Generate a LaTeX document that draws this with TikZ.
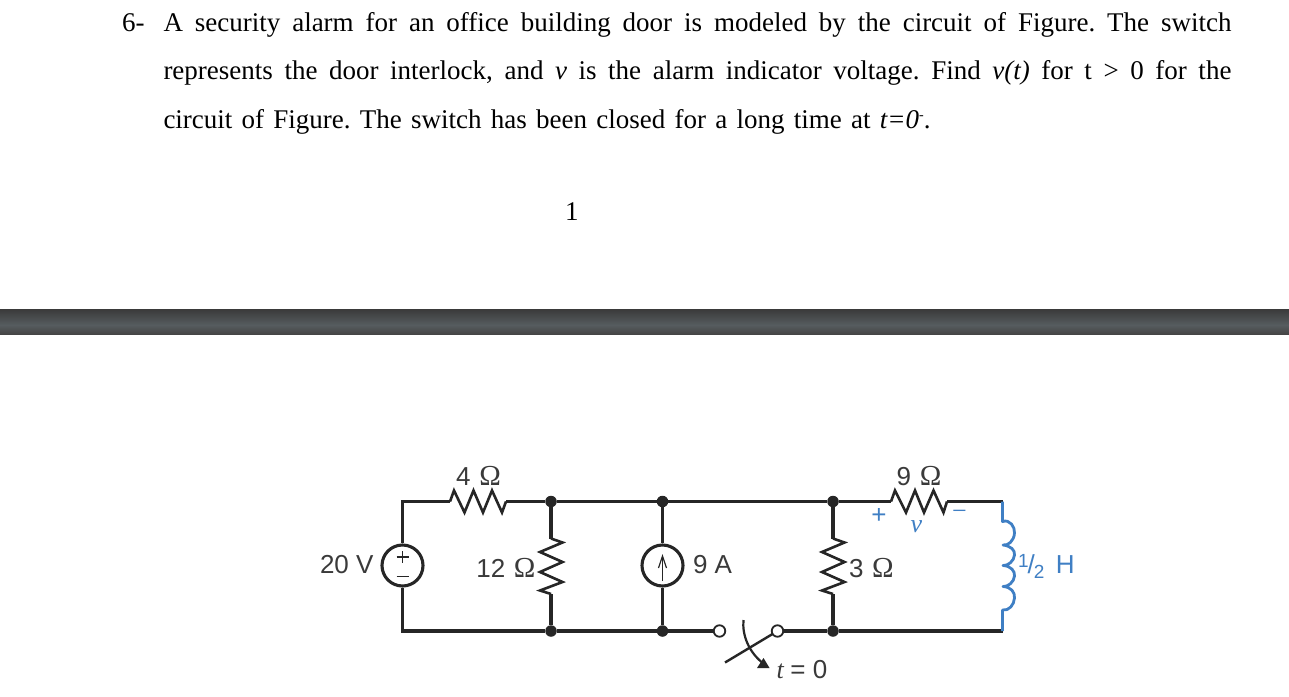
\documentclass[tikz,border=0pt]{standalone}
\usepackage{fontspec}
\setmainfont{Liberation Serif}
\newfontfamily\lsans{Liberation Sans}
\usetikzlibrary{arrows.meta}
\definecolor{wire}{HTML}{262626}
\definecolor{lab}{HTML}{3A3A3A}
\definecolor{blu}{HTML}{3F7FC4}
\definecolor{bandA}{HTML}{3A3A3A}
\definecolor{bandB}{HTML}{565C5F}
\definecolor{bandC}{HTML}{454545}
\frenchspacing
\newcommand{\para}[2]{\fontsize{27}{30}\selectfont\makebox[#1][s]{\strut #2}}
\newcommand{\Om}{{\fontsize{29}{28}\selectfont\rmfamily Ω}}
\tikzset{
  wirepath/.style={draw=wire,line width=3.1pt,line join=miter},
  body/.style={anchor=base west,inner sep=0pt,outer sep=0pt,text=black},
  clab/.style={inner sep=0pt,outer sep=0pt,text=lab,font=\lsans\fontsize{26}{28}\selectfont},
  blab/.style={inner sep=0pt,outer sep=0pt,text=blu,font=\lsans\fontsize{26}{28}\selectfont},
  srcc/.style={circle,draw=wire,line width=3.1pt,fill=white,minimum size=41pt,inner sep=0pt},
  junction/.style={circle,fill=wire,minimum size=11.5pt,inner sep=0pt},
  term/.style={circle,draw=wire,line width=1.8pt,fill=white,minimum size=11.5pt,inner sep=0pt},
}
\begin{document}
\begin{tikzpicture}[x=1pt,y=-1pt]
\useasboundingbox (0,0) rectangle (1289,696);
\fill[white] (0,0) rectangle (1289,696);
% band
\shade[top color=bandA,bottom color=bandB] (0,309) rectangle (1289,325);
\shade[top color=bandB,bottom color=bandC] (0,325) rectangle (1289,334);
% text
\node[body] (n6) at (122,31) {\fontsize{27}{30}\selectfont 6-};
\node[body] (l1) at (163.5,31) {\para{1068pt}{A security alarm for an office building door is modeled by the circuit of Figure. The switch}};
\node[body] (l2) at (163.5,79.5) {\para{1068pt}{represents the door interlock, and \textit{v} is the alarm indicator voltage. Find \textit{v(t)} for t > 0 for the}};
\node[body] (l3) at (163.5,128.5) {\para{767pt}{circuit of Figure. The switch has been closed for a long time at \textit{t=0\raisebox{9pt}{\fontsize{14}{14}\selectfont -}}.}};
\node[body] (pg) at (565,220) {\fontsize{27}{30}\selectfont 1};
% anchors
\coordinate (tl) at (402.5,501.5);
\coordinate (bl) at (402.5,631);
\coordinate (tr) at (1002.5,501.5);
\coordinate (br) at (1002.5,631);
\coordinate (ra) at (450,501.5);
\coordinate (rb) at (506,501.5);
\coordinate (na) at (891,501.5);
\coordinate (nb) at (947,501.5);
\coordinate (ia) at (1002.5,521.5);
\coordinate (ib) at (1002.5,610);
\node[srcc] (vs) at (402.5,565.5) {};
\node[srcc] (is) at (662.5,565.5) {};
\node[junction] (j1t) at (551,501.5) {};
\node[junction] (j2t) at (662.5,501.5) {};
\node[junction] (j3t) at (833,501.5) {};
\node[junction] (j1b) at (551,631) {};
\node[junction] (j2b) at (662.5,631) {};
\node[junction] (j3b) at (833,631) {};
\coordinate (r12a) at (551,538.5);
\coordinate (r12b) at (551,594);
\coordinate (r3a) at (833,538.5);
\coordinate (r3b) at (833,594);
\coordinate (sl) at (719.5,631);
\coordinate (sr) at (777.5,631);
% wires
\draw[wirepath] (vs.north) -- (tl) -- (ra);
\draw[wirepath] (rb) -- (j1t) -- (j2t) -- (j3t) -- (na);
\draw[wirepath] (nb) -- (tr);
\draw[wirepath] (vs.south) -- (bl) -- (j1b) -- (j2b) -- (sl);
\draw[wirepath] (sr) -- (j3b) -- (br);
\draw[wirepath] (j1t) -- (r12a);
\draw[wirepath] (r12b) -- (j1b);
\draw[wirepath] (j2t) -- (is.north);
\draw[wirepath] (is.south) -- (j2b);
\draw[wirepath] (j3t) -- (r3a);
\draw[wirepath] (r3b) -- (j3b);
% resistors
\draw[wirepath,line width=2.6pt] (ra) -- ++(4,-11) -- ++(10.5,22) -- ++(9,-22) -- ++(9.5,22) -- ++(9,-22) -- ++(10,22) -- (rb);
\draw[wirepath,line width=2.6pt] (na) -- ++(4,-11) -- ++(11,22) -- ++(9,-22) -- ++(9,22) -- ++(9.5,-22) -- ++(10,22) -- (nb);
\draw[wirepath,line width=2.6pt] (r12a) -- ++(11.5,4) -- ++(-22.5,9.5) -- ++(22.5,10) -- ++(-22.5,10) -- ++(22.5,10) -- ++(-22.5,8.5) -- (r12b);
\draw[wirepath,line width=2.6pt] (r3a) -- ++(11.5,4) -- ++(-22.5,9.5) -- ++(22.5,10) -- ++(-22.5,10) -- ++(22.5,10) -- ++(-22.5,8.5) -- (r3b);
% inductor
\draw[draw=blu,line width=2.8pt,line join=round] (tr) -- (ia)
  .. controls (1010,519) and (1015,527) .. (1014.5,533)
  .. controls (1014,541) and (1008,546) .. (1003,545)
  .. controls (1011,546) and (1015,550) .. (1014.5,555)
  .. controls (1014,561) and (1008,566) .. (1003,565.5)
  .. controls (1011,566) and (1015,571) .. (1014.5,576)
  .. controls (1014,582) and (1008,587) .. (1003,586.5)
  .. controls (1011,587) and (1015,592) .. (1014.5,598)
  .. controls (1014,605) and (1009,611) .. (ib) -- (br);
% sources
\draw[draw=wire,line width=1.5pt] (396.5,557) -- (408.5,557) (402.5,551) -- (402.5,563);
\draw[draw=wire,line width=1.5pt] (396.5,576.5) -- (408.5,576.5);
\draw[draw=wire,line width=1.2pt] (662.5,581) -- (662.5,556);
\draw[draw=wire,line width=1.2pt,line join=miter] (658.5,568) -- (662.5,556) -- (666.5,568);
% switch
\coordinate (bl0) at (725,662.5);
\draw[draw=wire,line width=2.4pt] (bl0) -- (sr);
\node[term] (sa) at (sl) {};
\node[term] (sb) at (sr) {};
\draw[draw=wire,line width=2.2pt] (743.5,620) .. controls (742,634) and (748,652) .. (764,664);
\fill[wire] (769.5,668) -- (757,668) -- (763.5,658) -- cycle;
% labels
\node[clab,anchor=east] (l20) at (373.5,565) {20 V};
\node[clab,anchor=center] (l4) at (478.5,476) {4\,\,\Om};
\node[clab,anchor=east] (l12) at (535.5,567.5) {12\,\,\Om};
\node[clab,anchor=west] (l9a) at (693,565) {9 A};
\node[clab,anchor=west] (l3o) at (849,568) {3\,\,\Om};
\node[clab,anchor=center] (l9o) at (919,476) {9\,\,\Om};
\node[clab,anchor=center] (lt) at (802,670) {\rmfamily\itshape t\upshape\ \lsans= 0};
\node[blab,anchor=center] (lp) at (879,516) {+};
\node[blab,anchor=center] (lm) at (959.5,515) {\rmfamily −};
\node[blab,anchor=center] (lv) at (916.5,526.5) {\rmfamily\itshape\fontsize{26}{26}\selectfont v};
\node[blab,anchor=west] (lh) at (1018,566) {\raisebox{6pt}{\fontsize{19}{18}\selectfont 1}\kern-1pt/\kern-1pt\raisebox{-5pt}{\fontsize{19}{18}\selectfont 2}\, H};
\end{tikzpicture}
\end{document}
